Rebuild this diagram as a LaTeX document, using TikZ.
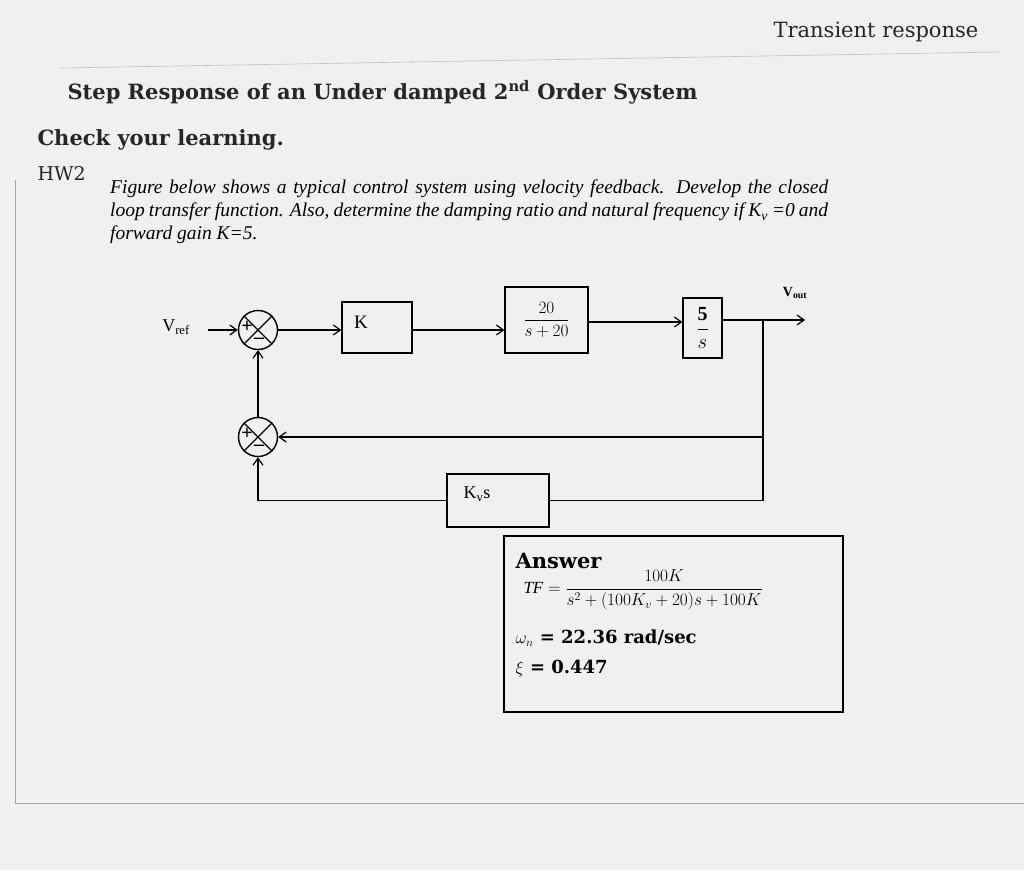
\documentclass[tikz,border=0pt]{standalone}
\usepackage{amsmath}
\usepackage{fontspec}
\setmainfont{Liberation Serif}
\newfontfamily\hd{DejaVu Serif}
\usetikzlibrary{arrows.meta}
\begin{document}
\begin{tikzpicture}[x=1pt,y=-1pt,
  blk/.style={draw,line width=1.3pt,inner sep=0pt},
  sumj/.style={draw,circle,line width=1.4pt,minimum size=39pt,inner sep=0pt},
  wire/.style={line width=1.2pt},
  arr/.style={wire,-{Straight Barb[length=7pt,width=10pt]}},
  sgn/.style={font=\fontsize{20}{20}\selectfont\bfseries,inner sep=0pt},
  hds/.style={font=\hd\bfseries\fontsize{21}{24}\selectfont,anchor=west,text=black!85}]
\fill[gray!12] (0,0) rectangle (1024,870);
\useasboundingbox (0,0) rectangle (1024,870);
\draw[gray!70,line width=0.8pt] (15,180) -- (15,803) -- (1024,803);
\draw[gray!50,line width=0.6pt] (60,68) -- (1000,52);
\node[font=\hd\fontsize{21}{24}\selectfont,text=black!85] (tr) at (876,32) {Transient response};
\node[hds] (h1) at (64,92) {Step Response of an Under damped 2\textsuperscript{nd} Order System};
\node[hds] (h2) at (34,140) {Check your learning.};
\node[font=\hd\fontsize{19}{22}\selectfont,anchor=west,text=black!85] (h3) at (34,173) {HW2};
\node[anchor=north west,text width=718pt,align=justify,font=\itshape\fontsize{19.5}{23}\selectfont,inner sep=0pt] (para) at (110,180)
 {Figure below shows a typical control system using velocity feedback. Develop the closed loop transfer function. Also, determine the damping ratio and natural frequency if K\textsubscript{v} =0 and forward gain K=5.};
% diagram
\node[font=\fontsize{18}{20}\selectfont] (vref) at (176,327) {V\textsubscript{ref}};
\coordinate (vin) at (208,330);
\node[sumj] (s1) at (258,330) {};
\node[sumj] (s2) at (258,437) {};
\foreach \s in {s1,s2}{
 \draw[line width=1.3pt] (\s.45) -- (\s.-135) (\s.135) -- (\s.-45);}
\node[sgn] (p1) at (247,327) {+};
\node[sgn] (m1) at (259,341) {--};
\node[sgn] (p2) at (247,434) {+};
\node[sgn] (m2) at (259,448) {--};
\node[blk,minimum width=70pt,minimum height=51pt] (K) at (377,327.5) {};
\node[font=\fontsize{19}{20}\selectfont] (Kt) at (361,322) {K};
\node[blk,minimum width=83pt,minimum height=66pt,font=\fontsize{18}{20}\selectfont] (G) at (546.5,320) {$\dfrac{20}{s+20}$};
\node[blk,minimum width=39pt,minimum height=60pt,font=\fontsize{20}{22}\selectfont\bfseries] (I) at (702.5,328) {$\dfrac{\mathbf 5}{s}$};
\node[blk,minimum width=102pt,minimum height=53pt] (Kv) at (498,500.5) {};
\node[font=\fontsize{18}{20}\selectfont] (Kvt) at (477,494) {K\textsubscript{v}s};
\node[font=\fontsize{14}{16}\selectfont\bfseries] (vout) at (795,293) {V\textsubscript{out}};
\coordinate (br) at (763,320);
\coordinate (out) at (805,320);
\draw[arr] (vin) -- (s1);
\draw[arr] (s1) -- (K.west |- s1);
\draw[arr] (K.east |- s1) -- (G.west |- s1);
\draw[arr] (G.east |- I) ++(0,-6) coordinate (gi) -- (I.west |- gi);
\draw[arr] (I.east |- br) -- (out);
\draw[arr] (br) -- (br |- s2) -- (s2);
\draw[wire] (br |- s2) -- (br |- Kv) -- (Kv.east);
\draw[arr] (Kv.west) -- (s2 |- Kv) -- (s2);
\draw[arr] (s2) -- (s1);
% answer
\node[blk,minimum width=339pt,minimum height=176pt] (ans) at (673.5,624) {};
\node[font=\hd\bfseries\fontsize{21}{24}\selectfont,anchor=west] (at) at (512,561) {Answer};
\node[anchor=west,font=\fontsize{17}{20}\selectfont] (tf) at (520,590) {$\mathit{TF}=\dfrac{100K}{s^2+(100K_v+20)s+100K}$};
\node[anchor=west,font=\hd\bfseries\fontsize{18}{20}\selectfont] (wn) at (512,638) {$\omega_n$ = 22.36 rad/sec};
\node[anchor=west,font=\hd\bfseries\fontsize{18}{20}\selectfont] (xi) at (512,668) {$\xi$ = 0.447};
\end{tikzpicture}
\end{document}
